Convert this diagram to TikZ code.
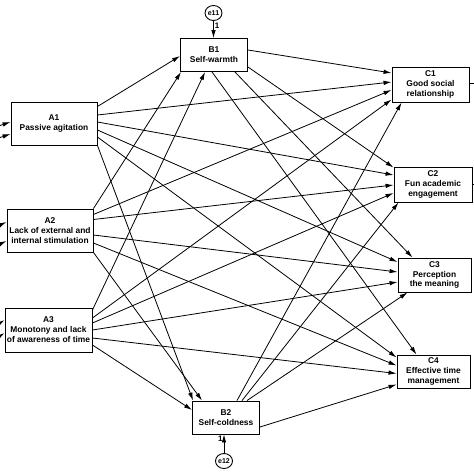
\documentclass[tikz,border=0pt]{standalone}
\usepackage{fontspec}
\setmainfont{Liberation Sans}
\usetikzlibrary{arrows.meta,shapes.geometric}
\begin{document}
\begin{tikzpicture}[x=1pt,y=-1pt,
	var/.style={draw,line width=0.9pt,align=center,inner sep=1pt,font=\bfseries\fontsize{8.4}{9.9}\selectfont},
	avar/.style={var,minimum width=86pt,minimum height=43pt},
	bvar/.style={var,minimum width=67pt,minimum height=33pt},
	cvar/.style={var,minimum width=77pt,minimum height=35pt},
	err/.style={draw,ellipse,line width=0.9pt,inner sep=0pt,minimum width=17pt,minimum height=15pt,font=\bfseries\fontsize{7}{8}\selectfont},
	arr/.style={-{Latex[length=8pt,width=4.5pt]},line width=0.8pt},
	one/.style={font=\bfseries\fontsize{8}{9}\selectfont,inner sep=1pt}]
	\useasboundingbox (0,0) rectangle (474,474);
	%
	\node[avar] (a1) at (54,123.5) {A1\\Passive agitation};
	\node[avar] (a2) at (50,230.5) {A2\\Lack of external and\\internal stimulation};
	\node[avar,minimum width=87pt,minimum height=44pt] (a3) at (48.5,330) {A3\\Monotony and lack\\of awareness of time};
	%
	\node[bvar] (b1) at (214,55) {B1\\Self-warmth};
	\node[bvar] (b2) at (226,417.5) {B2\\Self-coldness};
	\node[err] (e11) at (213.5,13) {e11};
	\node[err] (e12) at (224,461) {e12};
	%
	\node[cvar] (c1) at (430.5,84.5) {C1\\Good social\\relationship};
	\node[cvar,minimum width=78pt] (c2) at (433,184.5) {C2\\Fun academic\\engagement};
	\node[cvar,minimum width=73pt,minimum height=34pt] (c3) at (434.5,275) {C3\\Perception\\the meaning};
	\node[cvar,minimum width=73pt,minimum height=33pt] (c4) at (433.5,371.5) {C4\\Effective time\\management};
	%
	% error terms
	\draw[arr] (e11) -- (e11 |- b1.north) node[one,pos=0.3,right]{1};
	\draw[arr] (e12) -- (e12 |- b2.south) node[one,pos=0.75,left]{1};
	%
	% A1
	\draw[arr] ([yshift=17pt]a1.east) -- ([yshift=-1pt]b1.west);
	\draw[arr] ([yshift=8.5pt]a1.east) -- ([yshift=2.5pt]c1.west);
	\draw[arr] ([yshift=1.5pt]a1.east) -- ([yshift=9.5pt]c2.west);
	\draw[arr] ([yshift=-6.5pt]a1.east) -- ([yshift=13pt]c3.west);
	\draw[arr] ([yshift=-13.5pt]a1.east) -- ([yshift=14pt]c4.west);
	\draw[arr] (a1.south east) -- ([xshift=1pt]b2.north west);
	%
	% A2
	\draw[arr] (a2.north east) -- ([xshift=1pt]b1.south west);
	\draw[arr] ([yshift=16pt]a2.east) -- ([yshift=-5.5pt]c1.west);
	\draw[arr] ([yshift=11pt]a2.east) -- ([yshift=-0.5pt]c2.west);
	\draw[arr] ([yshift=-4.5pt]a2.east) -- ([yshift=3pt]c3.west);
	\draw[arr] ([yshift=-12.5pt]a2.east) -- ([yshift=6pt]c4.west);
	\draw[arr] (a2.south east) -- ([xshift=10pt]b2.north west);
	%
	% A3
	\draw[arr] ([yshift=20pt]a3.east) -- ([xshift=25pt]b1.south west);
	\draw[arr] ([yshift=12pt]a3.east) -- ([yshift=-15pt]c1.west);
	\draw[arr] ([yshift=7pt]a3.east) -- ([yshift=-8.5pt]c2.west);
	\draw[arr] (a3.east) -- ([yshift=-7pt]c3.west);
	\draw[arr] ([yshift=-8pt]a3.east) -- ([yshift=-2pt]c4.west);
	\draw[arr] ([yshift=-15pt]a3.east) -- ([yshift=7.5pt]b2.west);
	%
	% B1
	\draw[arr] ([yshift=5pt]b1.east) -- ([yshift=11.5pt]c1.west);
	\draw[arr] ([yshift=-12pt]b1.east) -- ([yshift=-1pt]c2.north west);
	\draw[arr] ([xshift=-13pt]b1.south east) -- ([xshift=15pt]c3.north west);
	\draw[arr] ([xshift=-2pt]b1.south) -- ([xshift=20pt]c4.north west);
	%
	% B2
	\draw[arr] ([xshift=11pt]b2.north) -- ([xshift=10pt]c1.south west);
	\draw[arr] ([xshift=16pt]b2.north) -- ([xshift=5pt]c2.south west);
	\draw[arr] ([xshift=21pt]b2.north) -- ([xshift=10pt]c3.south west);
	\draw[arr] ([yshift=-9.5pt]b2.east) -- ([yshift=-13pt]c4.west);
	%
	% cut off covariances and residuals at the edges
	\coordinate (l1) at (0,125.5);
	\coordinate (l2) at (0,137.5);
	\coordinate (l3) at (0,225);
	\coordinate (l4) at (0,244);
	\coordinate (l5) at (0,323);
	\coordinate (l6) at (0,336);
	\draw[arr] (l1) -- ([yshift=1.5pt]a1.west);
	\draw[arr] (l2) -- ([yshift=-10.5pt]a1.west);
	\draw[arr] (l3) -- ([yshift=8.5pt]a2.west);
	\draw[arr] (l4) -- ([yshift=-10.5pt]a2.west);
	\draw[arr] (l5) -- ([yshift=10pt]a3.west);
	\draw[arr] (l6) -- ([yshift=-3pt]a3.west);
	\coordinate (r1) at (474,83);
	\coordinate (r2) at (474,184);
	\draw[line width=0.8pt] (c1.east |- r1) -- (r1);
	\draw[line width=0.8pt] (c2.east |- r2) -- (r2);
\end{tikzpicture}
\end{document}
